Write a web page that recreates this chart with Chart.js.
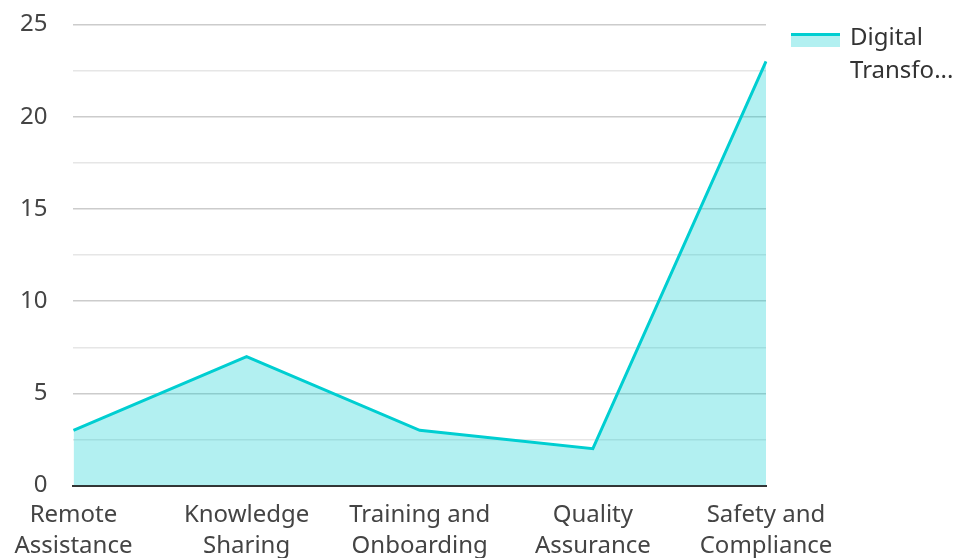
<!DOCTYPE html>
<html>
<head>
<meta charset="utf-8">
<script src="https://cdn.jsdelivr.net/npm/chart.js@4.4.0/dist/chart.umd.min.js"></script>
<style>
	html, body { margin: 0; padding: 0; background: #fff; }
	#wrap { position: relative; width: 956px; height: 558px; overflow: hidden; }
	#grafico { position: absolute; left: 0; top: -17px; }
	#leyenda { position: absolute; left: 791px; top: 19px; font-family: "Noto Sans", sans-serif; font-size: 24px; color: #333; line-height: 33px; }
	#leyenda .caja { position: absolute; left: 0; top: 14px; width: 49px; height: 14px; background: rgba(0,206,209,0.3); border-top: 3px solid #00CED1; box-sizing: border-box; }
	#leyenda .texto { margin-left: 59px; }
</style>
</head>
<body>
<div id="wrap">
	<canvas id="grafico" width="956" height="575"></canvas>
	<div id="leyenda"><div class="caja"></div><div class="texto">Digital<br>Transfo...</div></div>
</div>
<script>
// datos del gráfico
const categorias = [
	['Remote', 'Assistance'],
	['Knowledge', 'Sharing'],
	['Training and', 'Onboarding'],
	['Quality', 'Assurance'],
	['Safety and', 'Compliance']
];
const valores = [3, 7, 3, 2, 23];
const nombreSerie = 'Digital Transfo...';
const ejeYMin = 0;
const ejeYMax = 25;
const pasoY = 2.5;

const fuente = { family: '"Noto Sans", sans-serif', size: 24, lineHeight: 1.3 };

new Chart(document.getElementById('grafico'), {
	type: 'line',
	data: {
		labels: categorias,
		datasets: [{
			label: nombreSerie,
			data: valores,
			borderColor: '#00CED1',
			backgroundColor: 'rgba(0,206,209,0.3)',
			borderWidth: 3,
			fill: 'origin',
			tension: 0,
			pointRadius: 0,
			pointHoverRadius: 0
		}]
	},
	options: {
		responsive: false,
		animation: false,
		layout: { padding: { left: -6, right: 190, top: 0, bottom: -18 } },
		plugins: { legend: { display: false }, tooltip: { enabled: false } },
		scales: {
			x: {
				offset: false,
				grid: { display: false, drawTicks: false },
				border: { display: true, color: '#333', width: 2 },
				ticks: { font: fuente, color: '#444', maxRotation: 0, autoSkip: false, padding: 14 }
			},
			y: {
				min: ejeYMin,
				max: ejeYMax,
				grid: {
					drawTicks: false,
					color: ctx => (ctx.tick && ctx.tick.value % 5 === 0) ? '#cccccc' : '#e6e6e6',
					lineWidth: 1.5
				},
				border: { display: false },
				ticks: {
					stepSize: pasoY,
					font: fuente,
					color: '#444',
					padding: 26,
					callback: v => (v % 5 === 0 ? v : '')
				}
			}
		}
	}
});
</script>
</body>
</html>
